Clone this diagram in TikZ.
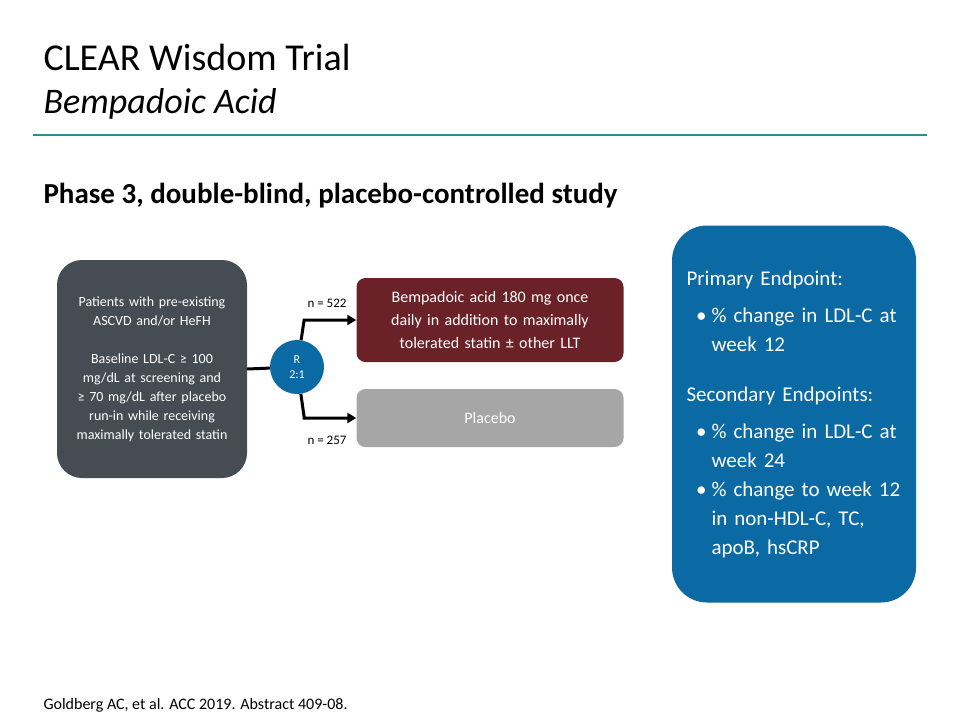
\documentclass[tikz,border=0pt]{standalone}
\usepackage{fontspec}
\setmainfont{Carlito}
\usetikzlibrary{arrows.meta, positioning}
\definecolor{slate}{HTML}{454C54}
\definecolor{wine}{HTML}{6A2228}
\definecolor{trialblue}{HTML}{0B6AA3}
\definecolor{rule}{HTML}{2E8B9A}
\tikzstyle{patients} = [rectangle, rounded corners=25pt, minimum width=190pt, minimum height=218pt, text centered, text width=170pt, fill=slate, text=white, font=\fontsize{14}{19}\selectfont]
\tikzstyle{arm} = [rectangle, rounded corners=9pt, minimum width=267pt, text centered, text width=250pt, text=white, font=\fontsize{16}{23}\selectfont]
\tikzstyle{randomise} = [circle, minimum size=54pt, inner sep=0pt, fill=trialblue, text=white, align=center, font=\fontsize{12}{15}\selectfont]
\tikzstyle{count} = [font=\fontsize{13}{15}\selectfont]
\tikzstyle{arrow} = [line width=3pt, -{Triangle[length=9pt,width=10pt]}]
\begin{document}
\begin{tikzpicture}[x=1pt, y=-1pt]
\useasboundingbox (0,0) rectangle (960,720);
\node (title) [anchor=base west, font=\fontsize{38}{40}\selectfont] at (40,70) {CLEAR Wisdom Trial};
\node (subtitle) [anchor=base west, font=\fontsize{36}{40}\selectfont\itshape] at (40,113) {Bempadoic Acid};
\draw[rule, line width=1.5pt] (33,135) -- (927,135);
\node (heading) [anchor=base west, font=\fontsize{29}{32}\selectfont\bfseries] at (40,203) {Phase 3, double-blind, placebo-controlled study};

\node (pts) [patients] at (152,369) {Patients with pre-existing ASCVD and/or HeFH\\[19pt]Baseline LDL-C ≥ 100 mg/dL at screening and ≥ 70 mg/dL after placebo run-in while receiving maximally tolerated statin};
\node (rand) [randomise] at (297,367) {R\\2:1};
\node (bemp) [arm, fill=wine, minimum height=84pt] at (490,320) {Bempadoic acid 180 mg once daily in addition to maximally tolerated statin ± other LLT};
\node (plac) [arm, fill=black!35, minimum height=58pt] at (490,418) {Placebo};
\coordinate (top) at (304,321);
\coordinate (bot) at (304,416);
\draw[line width=3pt] (pts.east) -- (rand);
\draw[arrow] (rand) -- (top) |- (bemp.west);
\draw[arrow] (rand) -- (bot) |- (plac.west);
\node (n1) [count] at (327,303) {n = 522};
\node (n2) [count] at (327,440) {n = 257};

\node (ends) [rectangle, rounded corners=35pt, minimum width=244pt, minimum height=377pt, fill=trialblue, text=white, text width=215pt, font=\fontsize{21}{29}\selectfont] at (794,414) {%
Primary Endpoint:
\begin{itemize}\setlength{\itemsep}{0pt}\setlength{\parskip}{0pt}\setlength{\leftmargin}{24pt}\setlength{\topsep}{0pt}
\item[•] \% change in LDL-C at week 12
\end{itemize}
\vspace{13pt}
Secondary Endpoints:
\begin{itemize}\setlength{\itemsep}{0pt}\setlength{\parskip}{0pt}\setlength{\topsep}{0pt}
\item[•] \% change in LDL-C at week 24
\item[•] \% change to week 12 in non-HDL-C, TC, apoB, hsCRP
\end{itemize}};

\node (cite) [anchor=base west, font=\fontsize{16}{18}\selectfont] at (40,709) {Goldberg AC, et al. ACC 2019. Abstract 409-08.};
\end{tikzpicture}
\end{document}
